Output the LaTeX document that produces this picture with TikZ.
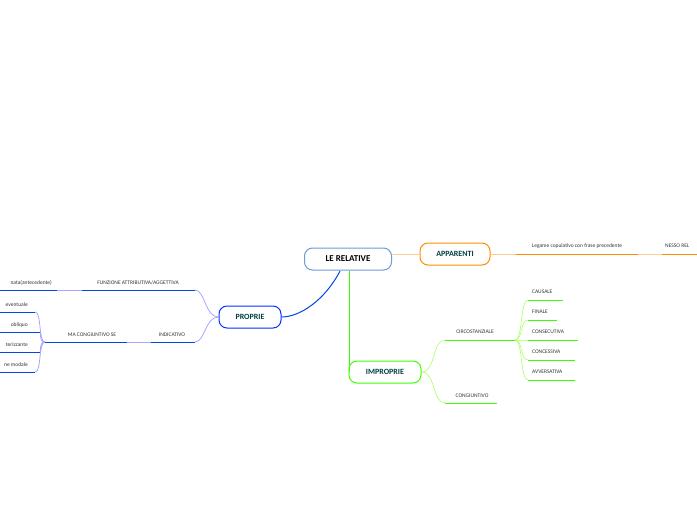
\documentclass[tikz,border=0pt]{standalone}
\usepackage{fontspec}
\setmainfont{Carlito}
\begin{document}
\begin{tikzpicture}[x=1pt,y=-1pt,
 box/.style={draw,line width=1pt,rounded corners=8pt,minimum height=22pt,inner sep=0pt,font=\bfseries\fontsize{8}{9}\selectfont,text=teal!50!black},
 lbl/.style={font=\fontsize{5.5}{6}\selectfont,text=black!80,inner sep=0pt},
 blu/.style={draw=blue!70!cyan!90!black,line width=1pt},
 blul/.style={draw=blue!35,line width=0.8pt},
 grn/.style={draw=green!70!lime,line width=1pt},
 grnl/.style={draw=green!40!lime!60,line width=0.6pt},
 org/.style={draw=orange!90!yellow,line width=1pt},
 orgl/.style={draw=orange!40,line width=0.6pt}]
\useasboundingbox (0,0) rectangle (697,520);
\node[box,draw=cyan!50!blue!60,minimum width=87pt,font=\bfseries\fontsize{9}{10}\selectfont,text=black] (root) at (348,259) {LE RELATIVE};
\node[box,draw=orange!90!yellow,minimum width=70pt] (app) at (455,254) {APPARENTI};
\node[box,draw=blue!80!cyan,minimum width=62pt] (pro) at (250,317) {PROPRIE};
\node[box,draw=green!70!lime,minimum width=72pt] (imp) at (385,372) {IMPROPRIE};
% apparenti
\draw[orgl] (root.east|-app) -- (app.west);
\coordinate (a1s) at (516,254); \coordinate (a1e) at (638,254);
\coordinate (a2s) at (662,254); \coordinate (a2e) at (697,254);
\draw[orgl] (app.east) -- (a1s);
\draw[org] (a1s) -- (a1e);
\node[lbl] (a1) at (577,246) {Legame copulativo con frase precedente};
\draw[orgl] (a1e) -- (a2s);
\draw[org] (a2s) -- (a2e);
\node[lbl,anchor=west] (a2) at (665,246) {NESSO REL};
% proprie
\draw[blu] (340,271) .. controls (325,300) and (300,317) .. (pro.east);
\coordinate (f1s) at (82,290); \coordinate (f1e) at (195,290);
\coordinate (i1s) at (151,342); \coordinate (i1e) at (195,342);
\draw[blul] (pro.west) .. controls (205,317) and (205,290) .. (f1e);
\draw[blul] (pro.west) .. controls (205,317) and (205,342) .. (i1e);
\draw[blu] (f1s) -- (f1e); \draw[blu] (i1s) -- (i1e);
\node[lbl] (f1) at (138,283) {FUNZIONE ATTRIBUTIVA/AGGETTIVA};
\node[lbl] (i1) at (172,335) {INDICATIVO};
\coordinate (d1e) at (57,290);
\draw[blul] (f1s) -- (d1e); \draw[blu] (0,290) -- (d1e);
\node[lbl,anchor=east] (d1) at (52,283) {nata(antecedente)};
\coordinate (m1s) at (45,342); \coordinate (m1e) at (127,342);
\draw[blul] (i1s) -- (m1e); \draw[blu] (m1s) -- (m1e);
\node[lbl] (m1) at (92,335) {MA CONGIUNTIVO SE};
\foreach \y/\e/\t/\n in {312/35/eventuale/c1,332/40/obliquo/c2,352/40/terizzante/c3,372/35/ne modale/c4}{
  \draw[blul] (m1s) .. controls (38,342) and (42,\y) .. (\e,\y);
  \draw[blu] (0,\y) -- (\e,\y);
  \node[lbl,anchor=east] (\n) at (28,\y-7) {\t};
}
% impropie
\draw[grn] (349,271) -- (349,372);
\coordinate (ci1) at (445,340); \coordinate (ci2) at (515,340);
\coordinate (co1) at (445,403); \coordinate (co2) at (497,403);
\draw[grnl] (imp.east) .. controls (436,372) and (432,340) .. (ci1);
\draw[grnl] (imp.east) .. controls (436,372) and (432,403) .. (co1);
\draw[grn] (ci1) -- (ci2); \draw[grn] (co1) -- (co2);
\node[lbl] (ci) at (475,332) {CIRCOSTANZIALE};
\node[lbl] (co) at (472,396) {CONGIUNTIVO};
\foreach \y/\e/\t/\n in {300/563/CAUSALE/s1,320/557/FINALE/s2,340/578/CONSECUTIVA/s3,360/575/CONCESSIVA/s4,380/575/AVVERSATIVA/s5}{
  \draw[grnl] (ci2) .. controls (523,340) and (520,\y) .. (528,\y);
  \draw[grn] (528,\y) -- (\e,\y);
  \node[lbl,anchor=west] (\n) at (532,\y-8) {\t};
}
\end{tikzpicture}
\end{document}
